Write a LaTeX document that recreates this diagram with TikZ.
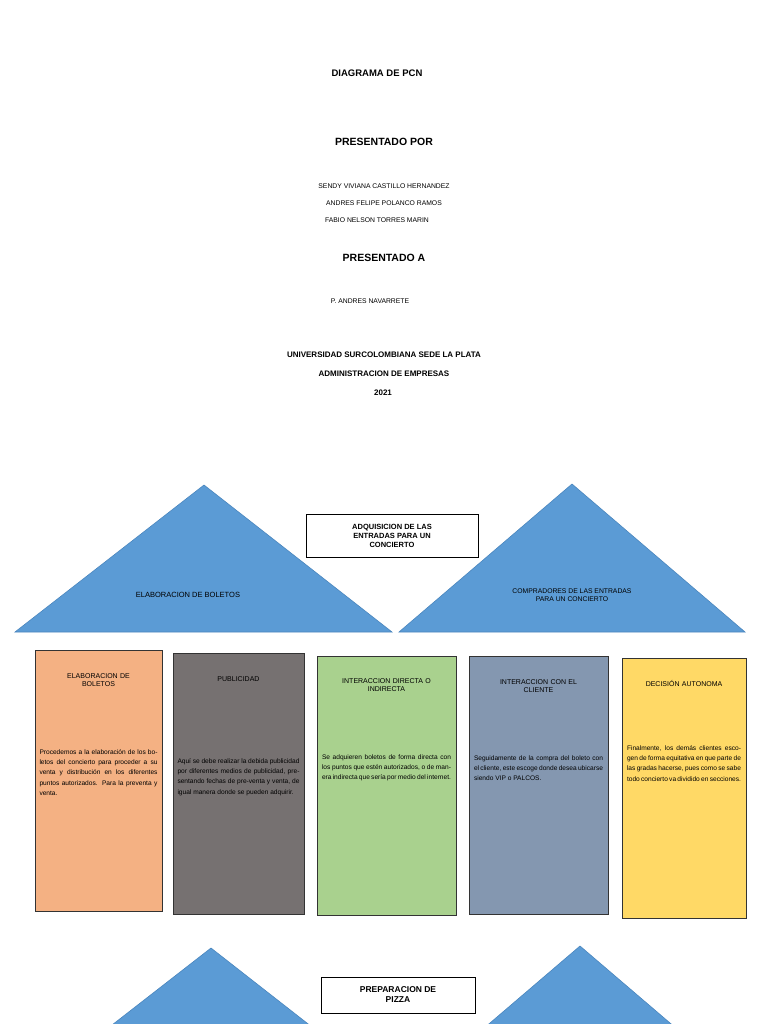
\documentclass[tikz,border=0pt]{standalone}
\usepackage{fontspec}
\setmainfont{Liberation Sans}
\begin{document}
\begin{tikzpicture}[x=1pt,y=-1pt,
  tristyle/.style={fill=triC,draw=triB,line width=0.6pt},
  cardstyle/.style={draw=black!80,line width=0.8pt},
  ctitle/.style={align=center,font=\fontsize{7}{8.5}\selectfont,text width=#1},
  cbody/.style={align=justify,font=\fontsize{6.6}{10.2}\selectfont,text width=#1,anchor=north},
  headstyle/.style={font=\bfseries\fontsize{9.5}{11}\selectfont},
  pname/.style={font=\fontsize{6.8}{8}\selectfont},
  framebox/.style={draw=black,line width=0.8pt,fill=white}]
\definecolor{triC}{HTML}{5B9BD5}\definecolor{triB}{HTML}{4A86BE}
\definecolor{c1}{HTML}{F4B183}\definecolor{c2}{HTML}{767171}
\definecolor{c3}{HTML}{A9D18E}\definecolor{c4}{HTML}{8497B0}\definecolor{c5}{HTML}{FFD966}
\useasboundingbox[fill=white] (0,0) rectangle (768,1024);
\node[headstyle] (t1) at (377,73) {DIAGRAMA DE PCN};
\node[font=\bfseries\fontsize{10.5}{12}\selectfont] (t2) at (384,142) {PRESENTADO POR};
\node[pname] (n1) at (384,186) {SENDY VIVIANA CASTILLO HERNANDEZ};
\node[pname] (n2) at (384,203) {ANDRES FELIPE POLANCO RAMOS};
\node[pname] (n3) at (377,220) {FABIO NELSON TORRES MARIN};
\node[font=\bfseries\fontsize{10.5}{12}\selectfont] (t3) at (384,258) {PRESENTADO A};
\node[pname] (n4) at (370,301) {P. ANDRES NAVARRETE};
\node[font=\bfseries\fontsize{8}{9}\selectfont] (u1) at (384,355) {UNIVERSIDAD SURCOLOMBIANA SEDE LA PLATA};
\node[font=\bfseries\fontsize{8}{9}\selectfont] (u2) at (384,374) {ADMINISTRACION DE EMPRESAS};
\node[font=\bfseries\fontsize{8}{9}\selectfont] (u3) at (383,393) {2021};
% triangles
\draw[tristyle] (204,485) -- (392,632) -- (15,632) -- cycle;
\draw[tristyle] (572,484) -- (745,632) -- (399,632) -- cycle;
\node[font=\fontsize{7.5}{9}\selectfont] (tl) at (188,595) {ELABORACION DE BOLETOS};
\node[align=center,font=\fontsize{6.8}{8.5}\selectfont] (tr) at (572,595) {COMPRADORES DE LAS ENTRADAS\\PARA UN CONCIERTO};
\node[framebox,minimum width=172pt,minimum height=43pt,align=center,font=\bfseries\fontsize{7.5}{9}\selectfont] (box1) at (392,535.5) {ADQUISICION DE LAS\\ENTRADAS PARA UN\\CONCIERTO};
% cards
\draw[cardstyle,fill=c1] (35,650) rectangle (162,911);
\draw[cardstyle,fill=c2] (173,653) rectangle (304,914);
\draw[cardstyle,fill=c3] (317,656) rectangle (456,915);
\draw[cardstyle,fill=c4] (469,656) rectangle (608,914);
\draw[cardstyle,fill=c5] (622,658) rectangle (746,918);
\node[ctitle=110pt] (h1) at (98.5,680) {ELABORACION DE\\BOLETOS};
\node[ctitle=110pt] (h2) at (238.5,679) {PUBLICIDAD};
\node[ctitle=125pt] (h3) at (386.5,685) {INTERACCION DIRECTA O\\INDIRECTA};
\node[ctitle=125pt] (h4) at (538.5,686) {INTERACCION CON EL\\CLIENTE};
\node[ctitle=115pt] (h5) at (684,683) {DECISIÓN AUTONOMA};
\node[cbody=118pt] (b1) at (98.5,746) {Procedemos a la elaboración de los boletos del concierto para proceder a su venta y distribución en los diferentes puntos autorizados. Para la preventa y venta.};
\node[cbody=122pt] (b2) at (238.5,755) {Aquí se debe realizar la debida publicidad por diferentes medios de publicidad, presentando fechas de pre-venta y venta, de igual manera donde se pueden adquirir.};
\node[cbody=129pt] (b3) at (386.5,751) {Se adquieren boletos de forma directa con los puntos que estén autorizados, o de manera indirecta que sería por medio del internet.};
\node[cbody=129pt] (b4) at (538.5,752) {Seguidamente de la compra del boleto con el cliente, este escoge donde desea ubicarse siendo VIP o PALCOS.};
\node[cbody=114pt] (b5) at (684,742) {Finalmente, los demás clientes escogen de forma equitativa en que parte de las gradas hacerse, pues como se sabe todo concierto va dividido en secciones.};
% bottom
\begin{scope}
\clip (0,0) rectangle (768,1024);
\draw[tristyle] (211,948) -- (399,1095) -- (22,1095) -- cycle;
\draw[tristyle] (580,946) -- (753,1094) -- (407,1094) -- cycle;
\end{scope}
\node[framebox,minimum width=154pt,minimum height=36pt,align=center,font=\bfseries\fontsize{8.5}{10}\selectfont] (box2) at (398,995) {PREPARACION DE\\PIZZA};
\end{tikzpicture}
\end{document}
